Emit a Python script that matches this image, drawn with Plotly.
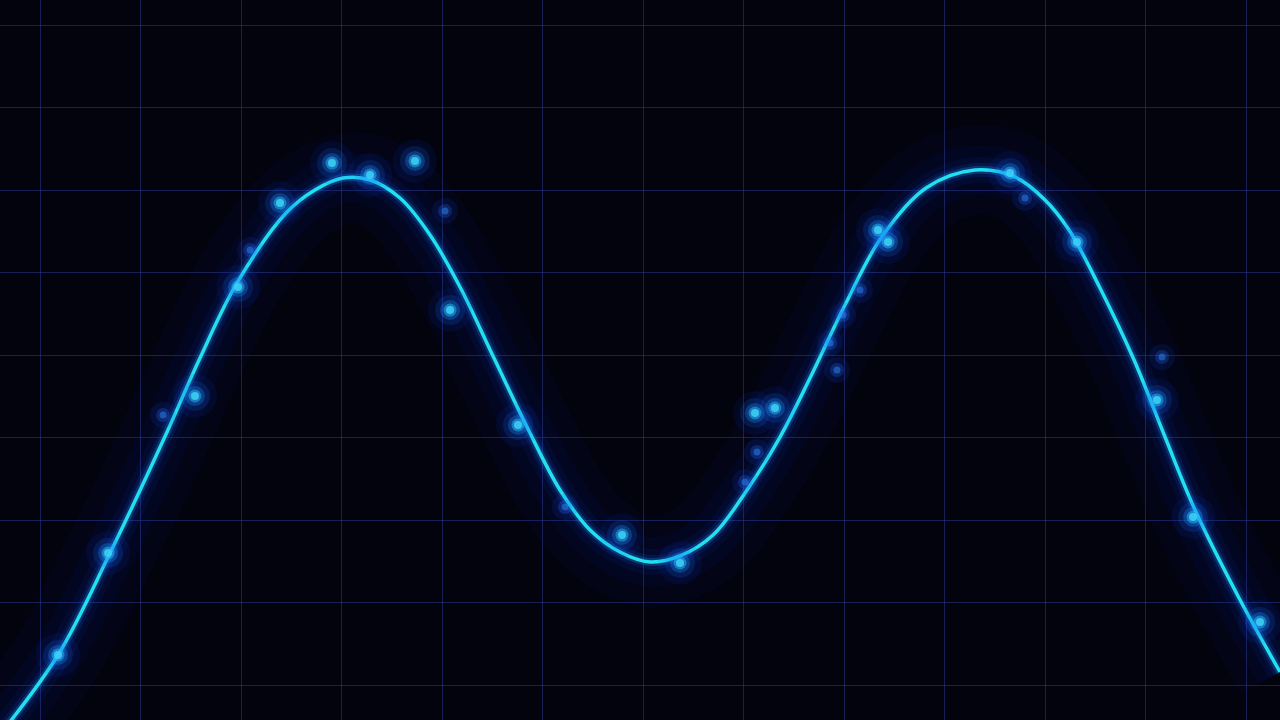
import plotly.graph_objects as go

# Curve (grid units: x = vertical grid index, y = horizontal grid index from bottom)
curve_x = [-0.398, 0.179, 0.697, 1.264, 1.592, 1.960, 2.448, 2.736, 3.015, 3.284, 3.582,
           3.881, 4.179, 4.517, 4.846, 5.174, 5.473, 5.771, 6.070, 6.368, 6.697, 7.035, 7.363,
           7.662, 8.010, 8.368, 8.816, 9.303, 9.701, 10.000, 10.239, 10.547, 10.886, 11.194,
           11.493, 11.920, 12.338]
curve_y = [-0.600, 0.364, 1.600, 3.067, 3.964, 4.873, 5.721, 6.000, 6.145, 6.121, 5.903,
           5.455, 4.824, 3.964, 3.127, 2.364, 1.879, 1.612, 1.491, 1.564, 1.818, 2.364, 3.006,
           3.721, 4.606, 5.418, 6.024, 6.242, 6.158, 5.879, 5.515, 4.812, 3.939, 3.006,
           2.121, 1.079, 0.158]

# Bright observation points
bright_x = [0.179, 0.677, 1.542, 1.970, 2.388, 2.905, 3.284, 3.731, 4.080, 4.756, 5.791, 6.368,
            7.114, 7.313, 8.338, 8.438, 9.652, 10.318, 11.114, 11.473, 12.139]
bright_y = [0.364, 1.600, 3.503, 4.824, 5.842, 6.327, 6.182, 6.352, 4.545, 3.152, 1.818, 1.479,
            3.297, 3.358, 5.515, 5.370, 6.206, 5.370, 3.455, 2.036, 0.764]

# Faint observation points
faint_x = [1.224, 2.090, 4.030, 5.224, 7.134, 7.015, 8.159, 7.990, 7.861, 7.930, 9.801, 11.164]
faint_y = [3.273, 5.273, 5.745, 2.158, 2.824, 2.461, 4.788, 4.485, 4.145, 3.818, 5.903, 3.976]

fig = go.Figure()

# soft glow around the curve
for w, c in [(90, "rgba(15,30,170,0.05)"), (50, "rgba(15,45,200,0.06)"), (26, "rgba(15,70,230,0.08)"),
             (14, "rgba(20,110,255,0.12)"), (8, "rgba(30,170,255,0.22)")]:
    fig.add_trace(go.Scatter(x=curve_x, y=curve_y, mode="lines",
                             line=dict(color=c, width=w, shape="spline", smoothing=1.0),
                             hoverinfo="skip", showlegend=False))

fig.add_trace(go.Scatter(x=curve_x, y=curve_y, mode="lines",
                         line=dict(color="#22e0ee", width=3.5, shape="spline", smoothing=1.0),
                         hoverinfo="skip", showlegend=False))

# faint dots
for s, c in [(26, "rgba(20,70,230,0.12)"), (14, "rgba(30,110,255,0.25)"), (7, "rgba(50,140,255,0.45)")]:
    fig.add_trace(go.Scatter(x=faint_x, y=faint_y, mode="markers",
                             marker=dict(size=s, color=c, line=dict(width=0)),
                             hoverinfo="skip", showlegend=False))

# bright dots (soft glowing blobs)
for s, c in [(44, "rgba(10,70,240,0.09)"), (30, "rgba(20,110,255,0.16)"), (20, "rgba(30,150,255,0.28)"),
             (13, "rgba(40,185,250,0.5)"), (8, "rgba(60,210,245,0.85)")]:
    fig.add_trace(go.Scatter(x=bright_x, y=bright_y, mode="markers",
                             marker=dict(size=s, color=c, line=dict(width=0)),
                             hoverinfo="skip", showlegend=False))

grid = "rgba(45,55,140,0.55)"
fig.update_layout(
    width=1280, height=720,
    margin=dict(l=0, r=0, t=0, b=0),
    paper_bgcolor="#03030e", plot_bgcolor="#03030e",
    xaxis=dict(range=[-0.398, 12.338], dtick=1, tick0=0, showgrid=True, gridcolor=grid, gridwidth=1,
               zeroline=False, showticklabels=False, showline=False, fixedrange=True),
    yaxis=dict(range=[-0.424, 8.303], dtick=1, tick0=0, showgrid=True, gridcolor=grid, gridwidth=1,
               zeroline=False, showticklabels=False, showline=False, fixedrange=True),
)

fig.write_html("out.html", config={"displayModeBar": False},
               post_script="document.body.style.margin='0';document.body.style.overflow='hidden';"
                           "document.body.style.background='#03030e';")
